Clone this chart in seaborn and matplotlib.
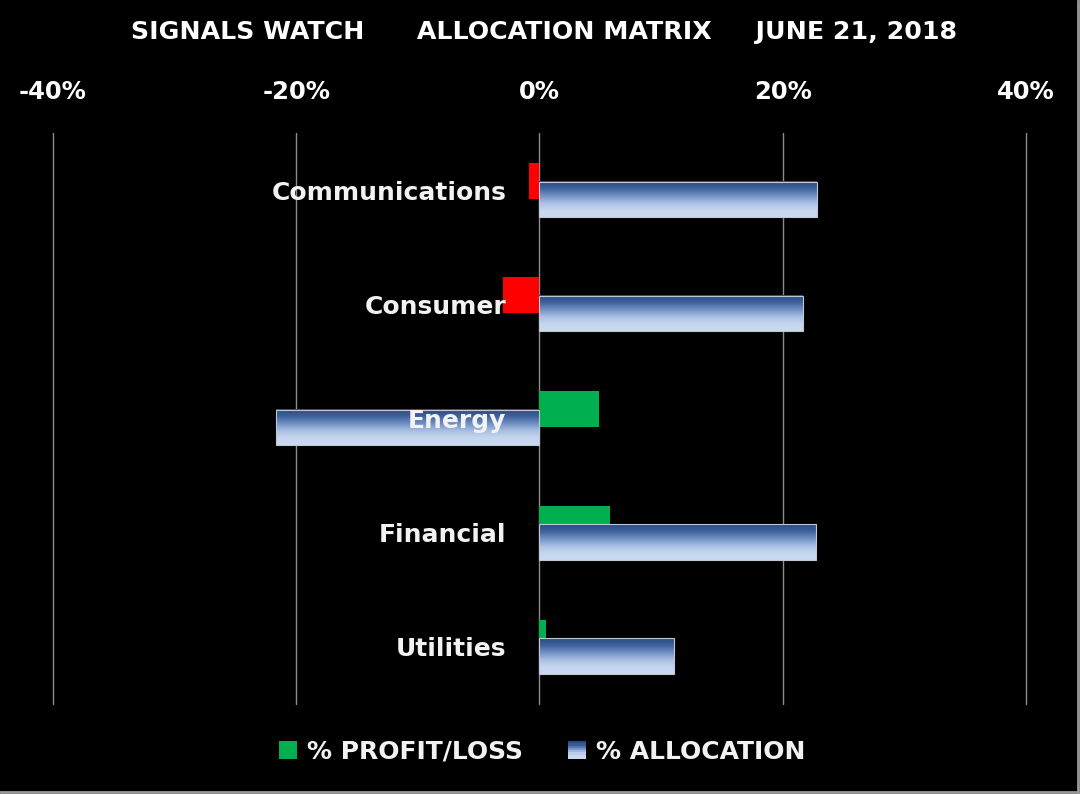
import numpy as np
import pandas as pd
import matplotlib
matplotlib.use("Agg")
import matplotlib.pyplot as plt
import seaborn as sns
from matplotlib.patches import Rectangle
from matplotlib.legend_handler import HandlerBase
from matplotlib.lines import Line2D
from matplotlib.colors import LinearSegmentedColormap

categories = ["Communications", "Consumer", "Energy", "Financial", "Utilities"]
profit_loss = [-0.9, -3.0, 4.9, 5.8, 0.5]
allocation = [22.8, 21.7, -21.7, 22.7, 11.1]
x_ticks = [-40, -20, 0, 20, 40]
x_tick_labels = ["-40%", "-20%", "0%", "20%", "40%"]
title = "SIGNALS WATCH      ALLOCATION MATRIX     JUNE 21, 2018"
legend_labels = ["% PROFIT/LOSS", "% ALLOCATION"]

df = pd.DataFrame({"category": categories, "pl": profit_loss, "alloc": allocation})

sns.set_theme(style="dark")
plt.rcParams["font.family"] = ["DejaVu Sans"]

fig = plt.figure(figsize=(10.8, 7.94), dpi=100, facecolor="black")
ax = fig.add_axes([0.049, 0.1134, 0.901, 0.7191])
ax.set_facecolor("black")

GREEN = "#00b050"
RED = "#ff0000"
pl_colors = [GREEN if v >= 0 else RED for v in profit_loss]

sns.barplot(data=df, x="pl", y="category", orient="h", width=0.315,
            palette=pl_colors, hue="category", legend=False, ax=ax,
            saturation=1, linewidth=0, zorder=1.2)
n_pl = len(ax.patches)
sns.barplot(data=df, x="alloc", y="category", orient="h", width=0.31,
            color="#4f6fa8", ax=ax, saturation=1, linewidth=0, zorder=1.8)

pl_patches = ax.patches[:n_pl]
al_patches = ax.patches[n_pl:]
for p in pl_patches:
    p.set_y(p.get_y() - 0.08)
    p.set_zorder(1.2)

grad_cmap = LinearSegmentedColormap.from_list(
    "g", ["#274a85", "#3f619c", "#7090c4", "#a8bee2", "#c6d6ef", "#cad9f1"])
grad = np.linspace(0, 1, 256).reshape(-1, 1)
for p in al_patches:
    p.set_y(p.get_y() + 0.08)
    x0, y0, w, h = p.get_x(), p.get_y(), p.get_width(), p.get_height()
    p.set_facecolor("none")
    p.set_edgecolor("#c0c8d4")
    p.set_linewidth(0.8)
    p.set_zorder(1.8)
    ax.imshow(grad, cmap=grad_cmap, aspect="auto",
              extent=(min(x0, x0 + w), max(x0, x0 + w), y0 + h, y0),
              zorder=1.6, interpolation="bicubic")

ax.set_xlim(-40, 40)
ax.set_ylim(4.5, -0.5)
ax.set_xticks(x_ticks)
ax.set_xticklabels(x_tick_labels)
ax.xaxis.tick_top()
ax.tick_params(axis="x", length=0, pad=21, colors="white", labelsize=17.5)
for lbl in ax.get_xticklabels():
    lbl.set_fontweight("bold")
ax.grid(axis="x", color="#8c8c8c", linewidth=1.0)
for gl in ax.get_xgridlines():
    gl.set_clip_on(False)
ax.grid(axis="y", visible=False)
ax.xaxis.set_zorder(0.5)
ax.yaxis.set_zorder(3)

ax.spines["left"].set_position(("data", 0))
for s in ax.spines.values():
    s.set_color("none")
ax.tick_params(axis="y", length=0, pad=24, colors="#f2f2f2", labelsize=18)
for lbl in ax.get_yticklabels():
    lbl.set_fontweight("bold")
ax.set_xlabel("")
ax.set_ylabel("")

fig.text(0.504, 1 - 39 / 794, title, ha="center", va="baseline", color="white",
         fontsize=18.2, fontweight="bold")


class GradHandler(HandlerBase):
    def create_artists(self, legend, orig_handle, xdescent, ydescent,
                       width, height, fontsize, trans):
        arts = []
        n = 8
        cols = grad_cmap(np.linspace(0, 1, n))
        for i in range(n):
            r = Rectangle((-xdescent, -ydescent + height * (n - 1 - i) / n), width, height / n,
                          facecolor=cols[i], edgecolor="none", transform=trans)
            arts.append(r)
        return arts


h1 = Rectangle((0, 0), 1, 1, facecolor=GREEN, edgecolor="none")
h2 = Rectangle((0, 0), 1, 1, facecolor="#6f8fc0")
leg = fig.legend([h1, h2], legend_labels, loc="center", bbox_to_anchor=(0.502, 0.053),
                 ncol=2, frameon=False, fontsize=18, handlelength=0.72, handleheight=0.72,
                 handletextpad=0.4, columnspacing=1.8,
                 handler_map={h2: GradHandler()})
for t in leg.get_texts():
    t.set_color("#f2f2f2")
    t.set_fontweight("bold")

fig.add_artist(Line2D([0, 1], [0.002, 0.002], transform=fig.transFigure, color="#9a9a9a", linewidth=2))
fig.add_artist(Line2D([0.998, 0.998], [0, 1], transform=fig.transFigure, color="#9a9a9a", linewidth=2))

fig.savefig("out.png", dpi=100, facecolor="black")
